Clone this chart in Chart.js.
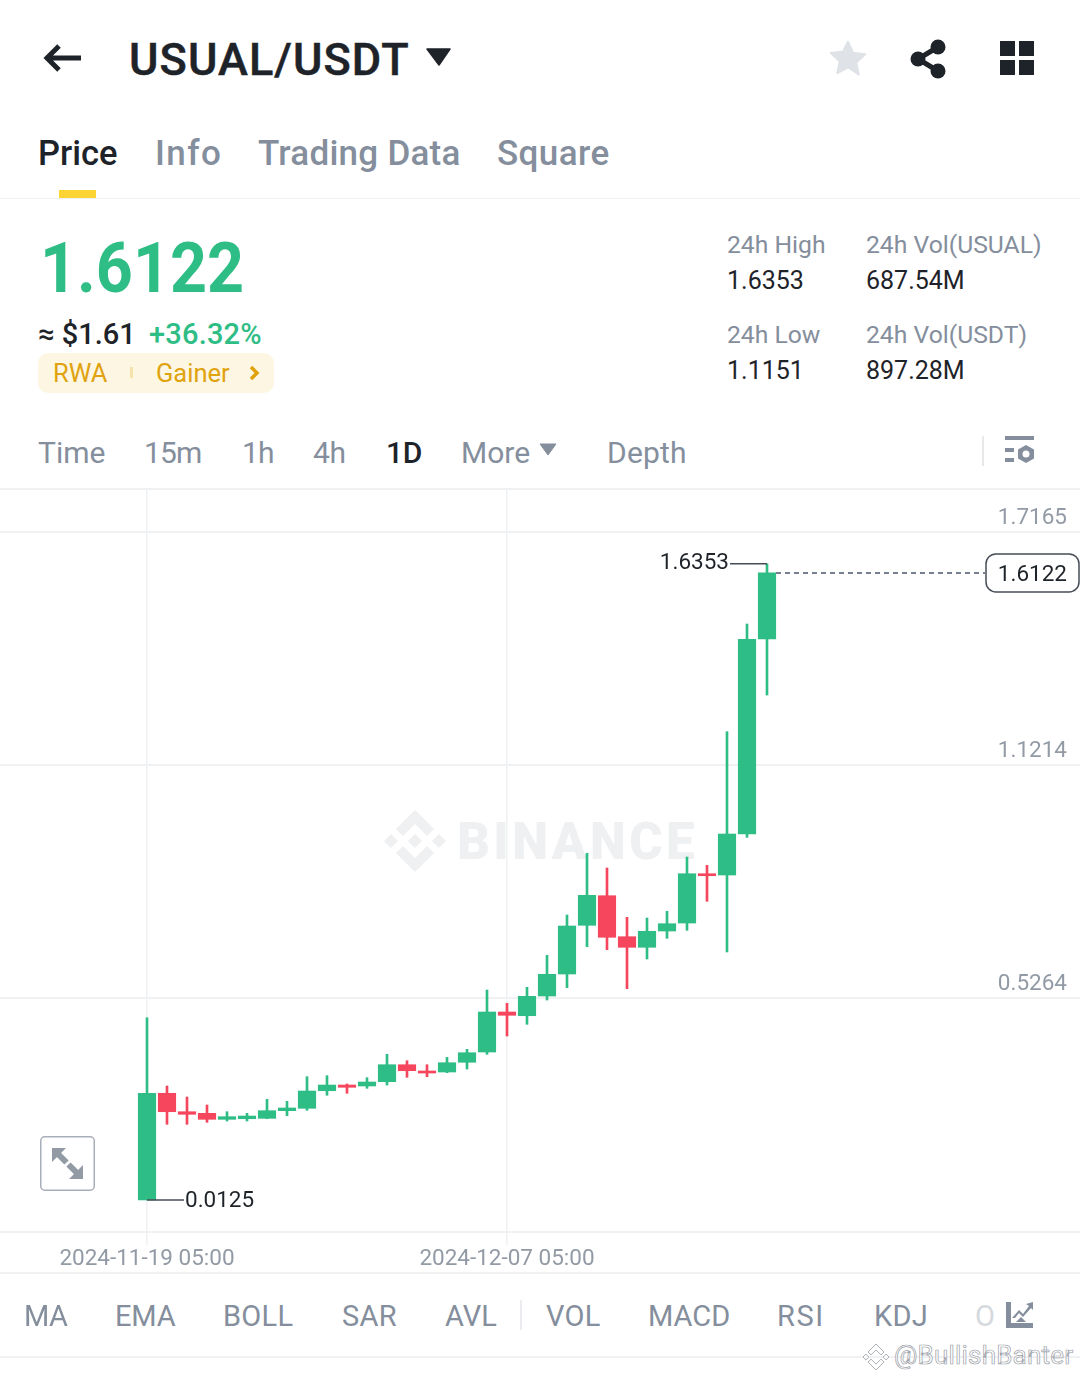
<!DOCTYPE html>
<html>
<head>
<meta charset="utf-8">
<title>USUAL/USDT</title>
<script src="https://cdn.jsdelivr.net/npm/chart.js@4"></script>
<style>
  html, body { margin: 0; padding: 0; background: #fff; }
  #page { position: relative; width: 1080px; height: 1378px; overflow: hidden; font-family: Roboto, sans-serif; color: #1e2329; }
  #page > * { position: absolute; }
  .t { white-space: nowrap; line-height: 1; }
  .grey { color: #848e9c; }
  .rule { left: 0; width: 1080px; height: 2px; background: #eff1f3; }
  #chart-wrap { left: 0; top: 490px; width: 1080px; height: 782px; }
</style>
</head>
<body>
<div id="page">
  <!-- header -->
  <svg style="left:43px;top:42px" width="42" height="32" viewBox="0 0 42 32" fill="none" stroke="#1e2329" stroke-width="5"><path d="M38 16H5M16 4 4 16l12 12"/></svg>
  <div class="t" style="left:129px;top:37px;font-size:45px;font-weight:500;letter-spacing:1.1px;-webkit-text-stroke:.5px #1e2329">USUAL/USDT</div>
  <svg style="left:426px;top:47px" width="25" height="20"><path d="M1 2h23L13 18z" fill="#1e2329" stroke="#1e2329" stroke-width="1.5" stroke-linejoin="round"/></svg>
  <svg style="left:827px;top:38px" width="42" height="42" viewBox="0 0 24 24"><path d="M12 2.2l2.9 6.3 6.9.8-5.1 4.7 1.4 6.8L12 16.7l-6.1 3.4 1.4-6.8-5.1-4.7 6.9-.8z" fill="#dfe2e6" stroke="#dfe2e6" stroke-width="1.2" stroke-linejoin="round"/></svg>
  <svg style="left:908px;top:38px" width="40" height="42" viewBox="0 0 40 42"><path d="M30 9 10 21l20 12" fill="none" stroke="#1e2329" stroke-width="5"/><circle cx="30" cy="9" r="7.5" fill="#1e2329"/><circle cx="10" cy="21" r="7.5" fill="#1e2329"/><circle cx="30" cy="33" r="7.5" fill="#1e2329"/></svg>
  <svg style="left:1000px;top:41px" width="34" height="34" fill="#1e2329"><rect width="15" height="15"/><rect x="19" width="15" height="15"/><rect y="19" width="15" height="15"/><rect x="19" y="19" width="15" height="15"/></svg>

  <div class="t" style="left:38px;top:136px;font-size:34.5px;font-weight:500">Price</div>
  <div class="t grey" style="left:155px;top:136px;font-size:35px;font-weight:500;letter-spacing:1.4px">Info</div>
  <div class="t grey" style="left:258px;top:136px;font-size:35px;font-weight:500;letter-spacing:.25px">Trading Data</div>
  <div class="t grey" style="left:497px;top:136px;font-size:35px;font-weight:500;letter-spacing:.4px">Square</div>
  <div style="left:59px;top:190px;width:37px;height:8px;background:#fcd535"></div>
  <div class="rule" style="top:198px;height:1px"></div>

  <!-- price block -->
  <div class="t" style="left:40px;top:232px;font-size:71px;font-weight:700;color:#2ebd85;transform:scaleX(.91);transform-origin:left top">1.6122</div>
  <div class="t" style="left:38px;top:320px;font-size:29px;font-weight:500">≈ $1.61</div>
  <div class="t" style="left:149px;top:320px;font-size:29px;font-weight:500;color:#2ebd85;letter-spacing:.2px">+36.32%</div>
  <div style="left:38px;top:353px;width:236px;height:40px;border-radius:10px;background:#fdf6e3"></div>
  <div class="t" style="left:53px;top:361px;font-size:25.5px;color:#e0a30f">RWA</div>
  <div style="left:130px;top:367px;width:3px;height:11px;background:#f5e3ac"></div>
  <div class="t" style="left:156px;top:361px;font-size:25.5px;color:#e0a30f">Gainer</div>
  <svg style="left:248px;top:365px" width="14" height="16" fill="none" stroke="#e0a30f" stroke-width="3.5"><path d="M3 2l6 6-6 6"/></svg>

  <div class="t grey" style="left:727px;top:233px;font-size:24.7px">24h High</div>
  <div class="t" style="left:727px;top:268px;font-size:25px">1.6353</div>
  <div class="t grey" style="left:727px;top:323px;font-size:24.7px">24h Low</div>
  <div class="t" style="left:727px;top:358px;font-size:25px">1.1151</div>
  <div class="t grey" style="left:866px;top:233px;font-size:24.7px">24h Vol(USUAL)</div>
  <div class="t" style="left:866px;top:268px;font-size:25px">687.54M</div>
  <div class="t grey" style="left:866px;top:323px;font-size:24.7px">24h Vol(USDT)</div>
  <div class="t" style="left:866px;top:358px;font-size:25px">897.28M</div>

  <!-- interval row -->
  <div class="t grey" style="left:38px;top:438px;font-size:30px">Time</div>
  <div class="t grey" style="left:144px;top:438px;font-size:30px;letter-spacing:-.8px">15m</div>
  <div class="t grey" style="left:242px;top:438px;font-size:30px;letter-spacing:-.8px">1h</div>
  <div class="t grey" style="left:313px;top:438px;font-size:30px;letter-spacing:-.4px">4h</div>
  <div class="t" style="left:386px;top:438px;font-size:30px;font-weight:500;letter-spacing:-.4px">1D</div>
  <div class="t grey" style="left:461px;top:438px;font-size:30px">More</div>
  <svg style="left:539px;top:443px" width="18" height="14"><path d="M1 1h16L9 12z" fill="#848e9c" stroke="#848e9c" stroke-linejoin="round"/></svg>
  <div class="t grey" style="left:607px;top:438px;font-size:30px;letter-spacing:.2px">Depth</div>
  <div style="left:982px;top:436px;width:2px;height:30px;background:#e6e8ea"></div>
  <svg style="left:1005px;top:436px" width="30" height="30" fill="#848e9c"><rect y="0" width="29" height="4"/><rect y="12" width="9" height="4"/><rect y="22" width="9" height="4"/><path d="M21 9l8 4.5v9L21 27l-8-4.5v-9z"/><circle cx="21" cy="18" r="3.5" fill="#fff"/></svg>
  <div class="rule" style="top:488px"></div>

  <!-- watermark sits behind the canvas -->
  <svg style="left:384px;top:810px" width="62" height="62" viewBox="0 0 126.61 126.61" fill="#eff0f2"><path d="M38.73 53.2l24.59-24.58 24.6 24.6 14.3-14.31L63.32 0 24.43 38.9zM0 63.31l14.3-14.31 14.31 14.31-14.31 14.3zM38.73 73.41l24.59 24.59 24.6-24.6 14.31 14.29-38.9 38.91-38.91-38.88-.02-.02zM98 63.31l14.3-14.31 14.31 14.3-14.31 14.32zM77.83 63.3L63.32 48.78 52.59 59.51l-1.24 1.23-2.54 2.54 14.51 14.5 14.51-14.47z"/></svg>
  <div class="t" style="left:457px;top:816px;font-size:51px;font-weight:900;color:#eff0f2;letter-spacing:3.4px">BINANCE</div>

  <div id="chart-wrap"><canvas id="chart-kline" width="1080" height="782"></canvas></div>

  <!-- expand button -->
  <svg style="left:40px;top:1136px" width="55" height="55" fill="none"><rect x=".75" y=".75" width="53.5" height="53.5" rx="4" stroke="#a7aeb9" stroke-width="1.5"/><path d="M18 18l8.5 8.5M28.5 28.5l8.5 8.5" stroke="#929aa5" stroke-width="6"/><path d="M12 12h14L12 26zM43 43H29l14-14z" fill="#929aa5"/></svg>

  <!-- indicator row -->
  <div class="rule" style="top:1272px"></div>
  <div class="t grey" style="left:24px;top:1302px;font-size:29px;letter-spacing:-.5px">MA</div>
  <div class="t grey" style="left:115px;top:1302px;font-size:29px;letter-spacing:-.2px">EMA</div>
  <div class="t grey" style="left:223px;top:1302px;font-size:29px;letter-spacing:.3px">BOLL</div>
  <div class="t grey" style="left:342px;top:1302px;font-size:29px;letter-spacing:.3px">SAR</div>
  <div class="t grey" style="left:445px;top:1302px;font-size:29px">AVL</div>
  <div style="left:520px;top:1300px;width:2px;height:30px;background:#eaecef"></div>
  <div class="t grey" style="left:546px;top:1302px;font-size:29px;letter-spacing:.3px">VOL</div>
  <div class="t grey" style="left:648px;top:1302px;font-size:29px">MACD</div>
  <div class="t grey" style="left:777px;top:1302px;font-size:29px;letter-spacing:1.6px">RSI</div>
  <div class="t grey" style="left:874px;top:1302px;font-size:29px;letter-spacing:.3px">KDJ</div>
  <div class="t" style="left:975px;top:1302px;font-size:29px;color:#d5d9de">O</div>
  <svg style="left:1006px;top:1301px" width="28" height="28" fill="#848e9c"><path d="M0 1h5v21h22v5H0z"/><path d="M6 17l7-8 4 4 6-8-3-2 7-2v8l-2-2-8 9-4-4-4 5z"/><path d="M10 21l5-5 5 5z"/></svg>
  <div class="rule" style="top:1356px"></div>

  <!-- bottom-right credit -->
  <svg style="left:862px;top:1344px" width="28" height="26" viewBox="0 0 126.61 126.61" fill="#fff" stroke="#9aa0a8" stroke-width="4"><path d="M38.73 53.2l24.59-24.58 24.6 24.6 14.3-14.31L63.32 0 24.43 38.9zM0 63.31l14.3-14.31 14.31 14.31-14.31 14.3zM38.73 73.41l24.59 24.59 24.6-24.6 14.31 14.29-38.9 38.91-38.91-38.88-.02-.02zM98 63.31l14.3-14.31 14.31 14.3-14.31 14.32z"/></svg>
  <div class="t" style="left:894px;top:1342px;font-size:26px;color:#fff;-webkit-text-stroke:.7px #9aa0a8;letter-spacing:.2px">@BullishBanter</div>
</div>

<script>
// daily candles
const opens  = [0.0125, 0.2845, 0.2375, 0.2334, 0.2181, 0.2196, 0.2206, 0.2401, 0.2462, 0.2911, 0.3056, 0.3031, 0.3141, 0.3574, 0.3414, 0.3388, 0.3636, 0.3898, 0.4919, 0.4824, 0.5327, 0.5888, 0.7131, 0.7886, 0.6840, 0.6570, 0.6985, 0.7189, 0.8447, 0.8414, 0.9460, 1.4435];
const closes = [0.2845, 0.2375, 0.2309, 0.2181, 0.2248, 0.2265, 0.2401, 0.2470, 0.2903, 0.3056, 0.2998, 0.3133, 0.3574, 0.3421, 0.3362, 0.3625, 0.3880, 0.4919, 0.4835, 0.5319, 0.5881, 0.7113, 0.7896, 0.6825, 0.6570, 0.6978, 0.7172, 0.8447, 0.8396, 0.9460, 1.4427, 1.6122];
const highs  = [0.4773, 0.3031, 0.2750, 0.2546, 0.2375, 0.2334, 0.2691, 0.2640, 0.3268, 0.3294, 0.3082, 0.3243, 0.3840, 0.3676, 0.3574, 0.3763, 0.3967, 0.5480, 0.5141, 0.5549, 0.6365, 0.7394, 0.8968, 0.8593, 0.7335, 0.7317, 0.7488, 0.8873, 0.8662, 1.2070, 1.4818, 1.6353];
const lows   = [0.0125, 0.2054, 0.2054, 0.2104, 0.2138, 0.2138, 0.2196, 0.2273, 0.2411, 0.2794, 0.2845, 0.2972, 0.3056, 0.3253, 0.3268, 0.3370, 0.3465, 0.3840, 0.4306, 0.4605, 0.5225, 0.5539, 0.6585, 0.6508, 0.5513, 0.6271, 0.6799, 0.7003, 0.7743, 0.6450, 0.9376, 1.3006];

const priceTicks = [0.5264, 1.1214, 1.7165];
const dateTickIndex = [0, 18];
const dateTickLabels = ["2024-11-19 05:00", "2024-12-07 05:00"];

const UP = "#2ebd85";
const DOWN = "#f6465d";
const candleColors = opens.map((o, i) => closes[i] >= o ? UP : DOWN);
const GRID = "#eff1f3";
const TICK_FONT = { family: "Roboto, sans-serif", size: 22.5 };

// high / low callouts and the last price tag
const priceLabels = {
  id: "priceLabels",
  afterDatasetsDraw(chart) {
    const { ctx, scales: { x, y } } = chart;
    const last = closes.length - 1;
    const hiIdx = highs.indexOf(Math.max(...highs));
    const loIdx = lows.indexOf(Math.min(...lows));
    ctx.save();
    ctx.font = "22.5px Roboto, sans-serif";
    ctx.textBaseline = "middle";
    ctx.lineWidth = 1.5;
    ctx.strokeStyle = "#474d57";
    ctx.fillStyle = "#1e2329";

    const hx = x.getPixelForValue(hiIdx), hy = y.getPixelForValue(highs[hiIdx]);
    ctx.beginPath(); ctx.moveTo(hx, hy); ctx.lineTo(hx - 37, hy); ctx.stroke();
    ctx.textAlign = "right";
    ctx.fillText(highs[hiIdx].toFixed(4), hx - 38, hy);

    const lx = x.getPixelForValue(loIdx), ly = y.getPixelForValue(lows[loIdx]);
    ctx.beginPath(); ctx.moveTo(lx, ly); ctx.lineTo(lx + 37, ly); ctx.stroke();
    ctx.textAlign = "left";
    ctx.fillText(lows[loIdx].toFixed(4), lx + 38, ly + 1);

    const cy = y.getPixelForValue(closes[last]);
    ctx.setLineDash([5, 4]);
    ctx.lineWidth = 2;
    ctx.strokeStyle = "#76808f";
    ctx.beginPath(); ctx.moveTo(x.getPixelForValue(last) + 9, cy); ctx.lineTo(985, cy); ctx.stroke();
    ctx.setLineDash([]);
    ctx.lineWidth = 1.5;
    ctx.strokeStyle = "#474d57";
    ctx.fillStyle = "#fff";
    ctx.beginPath(); ctx.roundRect(986, cy - 19, 93, 38, 10); ctx.fill(); ctx.stroke();
    ctx.fillStyle = "#1e2329";
    ctx.textAlign = "right";
    ctx.fillText(closes[last].toFixed(4), 1067, cy + 2.5);
    ctx.restore();
  }
};

new Chart(document.getElementById("chart-kline"), {
  type: "bar",
  data: {
    datasets: [
      {
        label: "Wick",
        data: highs.map((h, i) => ({ x: i, y: [lows[i], h] })),
        backgroundColor: candleColors,
        barThickness: 2,
        grouped: false
      },
      {
        label: "Body",
        data: closes.map((c, i) => ({ x: i, y: [opens[i], c] })),
        backgroundColor: candleColors,
        barThickness: 17.5,
        minBarLength: 2,
        grouped: false
      }
    ]
  },
  options: {
    responsive: false,
    animation: false,
    layout: { padding: 0 },
    plugins: { legend: { display: false }, tooltip: { enabled: false } },
    scales: {
      x: {
        type: "linear",
        offset: false,
        min: -7.35,
        max: 46.65,
        afterBuildTicks: s => { s.ticks = dateTickIndex.map(v => ({ value: v })); },
        afterFit: s => { s.height = 40; s.paddingLeft = 0; s.paddingRight = 0; },
        grid: { offset: false, color: GRID, lineWidth: 1.5, tickLength: 13, tickColor: GRID },
        border: { display: true, color: GRID, width: 2 },
        ticks: {
          autoSkip: false, maxRotation: 0, padding: 1,
          color: "#929aa5", font: TICK_FONT,
          callback: v => dateTickLabels[dateTickIndex.indexOf(v)]
        }
      },
      y: {
        position: "right",
        min: -0.0694,
        max: 1.8237,
        afterBuildTicks: s => { s.ticks = priceTicks.map(v => ({ value: v })); },
        afterFit: s => { s.width = 0; s.paddingTop = 0; s.paddingBottom = 0; },
        grid: { color: GRID, lineWidth: 2, drawTicks: false },
        border: { display: false },
        ticks: {
          mirror: true, padding: -13, labelOffset: -14,
          color: "#929aa5", font: TICK_FONT,
          callback: v => v.toFixed(4)
        }
      }
    }
  },
  plugins: [priceLabels]
});
</script>
</body>
</html>
